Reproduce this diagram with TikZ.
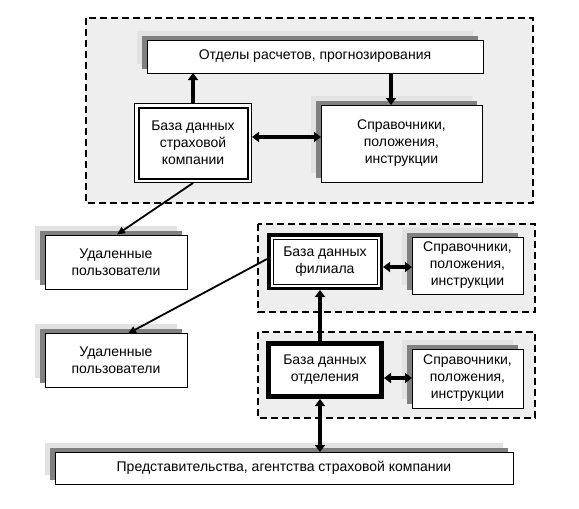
\documentclass[tikz,border=0pt]{standalone}
\usepackage{fontspec}
\setmainfont{Liberation Sans}
\usetikzlibrary{arrows.meta}
\definecolor{bgg}{RGB}{238,238,238}
\definecolor{lightsh}{RGB}{226,226,226}
\definecolor{darksh}{RGB}{128,128,128}
\newcommand\txtfont{\fontsize{14}{17}\selectfont}
\newcommand\shbox[6]{%
  \fill[lightsh] (#2-10,#3-9) rectangle (#4-10,#5-9);
  \fill[darksh] (#2-5,#3-4) rectangle (#4-5,#5-4);
  \node[box, anchor=north west, minimum width={(#4-#2)*1pt}, minimum height={(#5-#3)*1pt}] (#1) at (#2,#3) {#6};}
\newcommand\plbox[6]{%
  \node[box, draw=none, anchor=north west, minimum width={(#4-#2)*1pt}, minimum height={(#5-#3)*1pt}] (#1) at (#2,#3) {#6};}
\begin{document}
\begin{tikzpicture}[x=1pt,y=-1pt,
  box/.style={draw=black, line width=0.9pt, fill=white, inner sep=0pt, outer sep=0pt, align=center, font=\txtfont},
  dashbox/.style={draw=black, fill=bgg, line width=2.2pt, dash pattern=on 7pt off 4pt},
  thick arrow/.style={line width=3.5pt, -{Triangle[length=7pt,width=10pt]}},
  thick both/.style={line width=3.5pt, {Triangle[length=7pt,width=10pt]}-{Triangle[length=7pt,width=10pt]}},
  thin arrow/.style={line width=1.8pt, -{Triangle[length=8pt,width=7pt]}}]
\useasboundingbox (0,0) rectangle (579,509);
% dashed groups
\draw[dashbox] (86,18) rectangle (533,203);
\draw[dashbox] (258,224) rectangle (535,312);
\draw[dashbox] (258,332) rectangle (535,418);
% boxes with shadows
\shbox{otd}{147}{40}{483}{73}{Отделы расчетов, прогнозирования}
\shbox{spr1}{321}{105}{482}{182}{Справочники,\\положения,\\инструкции}
\shbox{ud1}{45}{235}{187}{289}{Удаленные\\пользователи}
\shbox{ud2}{45}{333}{187}{387}{Удаленные\\пользователи}
\shbox{spr2}{412}{237}{523}{294}{Справочники,\\положения,\\инструкции}
\shbox{spr3}{412}{349}{523}{408}{Справочники,\\положения,\\инструкции}
\shbox{pred}{55}{452}{513}{484}{Представительства, агентства страховой компании}
% database boxes
\plbox{db1}{134}{103}{252}{183}{База данных\\страховой\\компании}
\draw[line width=1pt] (134.5,103.5) rectangle (251.5,182.5);
\draw[line width=2pt] (138.5,107.5) rectangle (247.5,178.5);
\plbox{dbf}{267}{233}{383}{290}{База данных\\филиала}
\draw[line width=3.5pt] (268.75,234.75) rectangle (381.25,288.25);
\draw[line width=1pt] (273,239) rectangle (377,284);
\plbox{dbo}{266}{341}{384}{399}{База данных\\отделения}
\draw[line width=5pt] (268.5,343.5) rectangle (381.5,396.5);
% connectors
\draw[thick arrow] (db1.north) -- (otd.south -| db1.north);
\draw[thick arrow] (otd.south -| 391,0) -- (spr1.north -| 391,0);
\draw[thick both] (db1.east |- 0,137) -- (spr1.west |- 0,137);
\draw[thin arrow] (db1.south) -- (117,234.5) coordinate (u1);
\draw[thin arrow] (dbf.west |- 0,259) -- (128,333.5) coordinate (u2);
\draw[thick arrow] (dbo.north -| 320,0) -- (dbf.south -| 320,0);
\draw[thick both] (dbf.east |- 0,267) -- (spr2.west |- 0,267);
\draw[thick both] (dbo.east |- 0,378) -- (spr3.west |- 0,378);
\draw[thick both] (dbo.south -| 320,0) -- (pred.north -| 320,0);
\end{tikzpicture}
\end{document}
